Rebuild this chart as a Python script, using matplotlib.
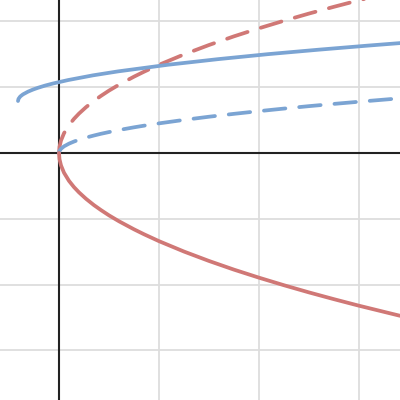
import matplotlib
matplotlib.use("Agg")
import matplotlib.pyplot as plt

# Values (grid units)
x_red = [0, 0.005, 0.02, 0.05, 0.1, 0.15, 0.2, 0.27, 0.35, 0.42, 0.5, 0.6, 0.75, 0.85,
         1.0, 1.25, 1.5, 1.75, 2.0, 2.25, 2.5, 2.75, 3.0, 3.41]
y_red_upper = [0, 0.095, 0.189, 0.300, 0.424, 0.519, 0.599, 0.696, 0.793, 0.868, 0.948,
               1.038, 1.160, 1.235, 1.340, 1.498, 1.641, 1.773, 1.895, 2.010, 2.119,
               2.222, 2.321, 2.474]
y_red_lower = [-v for v in y_red_upper]

x_blue_dashed = x_red
y_blue_dashed = [0, 0.032, 0.064, 0.101, 0.142, 0.174, 0.201, 0.234, 0.266, 0.292, 0.318,
                 0.349, 0.390, 0.415, 0.450, 0.503, 0.551, 0.595, 0.636, 0.675, 0.712,
                 0.746, 0.779, 0.831]

x_blue_solid = [-0.41, -0.405, -0.39, -0.38, -0.36, -0.31, -0.26, -0.21, -0.14, -0.06,
                0.09, 0.34, 0.59, 1.09, 1.59, 2.09, 2.59, 3.09, 3.41]
y_blue_solid = [0.79, 0.822, 0.854, 0.868, 0.891, 0.932, 0.964, 0.991, 1.024, 1.056,
                1.108, 1.180, 1.240, 1.341, 1.426, 1.502, 1.569, 1.632, 1.670]

x_grid = [1, 2, 3]
y_grid = [-3, -2, -1, 1, 2]

BLUE = "#7ba4d3"
RED = "#d07876"

plt.rcParams['lines.scale_dashes'] = False
fig = plt.figure(figsize=(4, 4), dpi=100)
ax = fig.add_axes([0, 0, 1, 1])
ax.set_xlim(-0.59, 3.41)
ax.set_ylim(-3.754, 2.325)
for s in ax.spines.values():
    s.set_visible(False)
ax.set_xticks([])
ax.set_yticks([])

for gx in x_grid:
    ax.axvline(gx, color="#dddddd", lw=1.3, zorder=0)
for gy in y_grid:
    ax.axhline(gy, color="#dddddd", lw=1.3, zorder=0)
ax.axvline(0, color="#222222", lw=1.5, zorder=1)
ax.axhline(0, color="#222222", lw=1.5, zorder=1)

lw = 2.7
dash = (0, (15.5, 10.0))
ax.plot(x_red, y_red_upper, color=RED, lw=lw, linestyle=dash,
        dash_capstyle="round", zorder=2)
ax.plot(x_blue_dashed, y_blue_dashed, color=BLUE, lw=lw, linestyle=dash,
        dash_capstyle="round", zorder=3)
ax.plot(x_red, y_red_lower, color=RED, lw=lw, solid_capstyle="round", zorder=4)
ax.plot(x_blue_solid, y_blue_solid, color=BLUE, lw=lw, solid_capstyle="round", zorder=5)

fig.savefig("out.png", dpi=100)
